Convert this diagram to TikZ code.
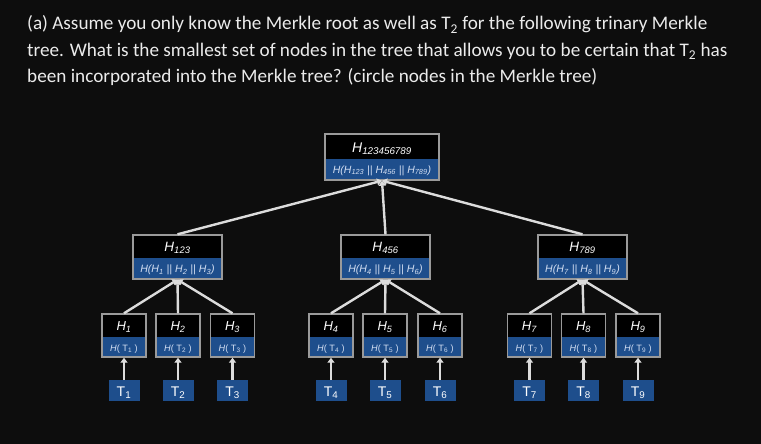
\documentclass[tikz,border=0pt]{standalone}
\usepackage{fontspec}
\setmainfont{Liberation Sans}
\newfontfamily\headfont{Carlito}
\usetikzlibrary{arrows.meta}
\definecolor{bgc}{HTML}{0D0D0D}
\definecolor{headc}{HTML}{EBEBEB}
\definecolor{mblue}{RGB}{30,78,140}
\definecolor{bordc}{HTML}{9A9A9A}
\definecolor{btext}{HTML}{D2DEF2}
\definecolor{arrc}{HTML}{DCDCDC}
\newcommand\mkH[2]{\textit{#1}\textsubscript{\textit{#2}}}
\newcommand\mkT[1]{T\textsubscript{#1}}
\tikzset{
  lowh/.store in=\lowh, lowh=21,
  hbox/.style={draw=bordc, line width=1.4pt, fill=black, inner sep=0pt,
    path picture={\fill[mblue] (path picture bounding box.south west) rectangle ([yshift=\lowh pt]path picture bounding box.south east);}},
  tbox/.style={fill=mblue, inner sep=0pt, minimum width=31pt, minimum height=21pt},
  toptxt/.style={text=white, inner sep=0pt, anchor=base},
  bottxt/.style={text=btext, inner sep=0pt, anchor=base},
  ttxt/.style={text=white, inner sep=0pt, anchor=base, font=\fontsize{14}{16}\selectfont},
  conn/.style={draw=arrc, line width=2.4pt, -{Triangle[length=5pt,width=7pt]}},
  headline/.style={text=headc, inner sep=0pt, anchor=base west, font=\headfont\fontsize{19.2}{22}\selectfont}
}
\begin{document}
\begin{tikzpicture}[x=1pt,y=-1pt]
\fill[bgc] (0,0) rectangle (761,444);
\useasboundingbox (0,0) rectangle (761,444);
% heading
\node[headline] (l1) at (27,30) {(a) Assume you only know the Merkle root as well as T\textsubscript{2} for the following trinary Merkle};
\node[headline] (l2) at (27,56.5) {tree. What is the smallest set of nodes in the tree that allows you to be certain that T\textsubscript{2} has};
\node[headline] (l3) at (27,83) {been incorporated into the Merkle tree? (circle nodes in the Merkle tree)};
% root
\node[hbox, lowh=21, minimum width=114pt, minimum height=46pt] (r) at (382,157) {};
\node[toptxt, font=\fontsize{14}{16}\selectfont] (rt) at (382,152) {\mkH{H}{123456789}};
\node[bottxt, font=\fontsize{10.5}{12}\selectfont] (rb) at (382,173) {\mkH{H(H}{123}\textit{ || }\mkH{H}{456}\textit{ || }\mkH{H}{789}\textit{)}};
% middle
\foreach \n/\x/\a/\b/\c/\s in {a/177.5/1/2/3/123, b/385.5/4/5/6/456, c/582.5/7/8/9/789}{
  \node[hbox, lowh=21, minimum width=89pt, minimum height=44pt] (m\n) at (\x,257) {};
  \node[toptxt, font=\fontsize{13.5}{15}\selectfont] (m\n t) at (\x,251.5) {\mkH{H}{\s}};
  \node[bottxt, font=\fontsize{10.6}{12}\selectfont] (m\n b) at (\x,272.5) {\mkH{H(H}{\a}\textit{ || }\mkH{H}{\b}\textit{ || }\mkH{H}{\c}\textit{)}};
}
% leaves
\foreach \i/\x in {1/124,2/178,3/232.5,4/331,5/385,6/440,7/529.5,8/583.5,9/638}{
  \node[hbox, lowh=20, minimum width=44pt, minimum height=43pt] (h\i) at (\x,335.5) {};
  \node[toptxt, font=\fontsize{13}{15}\selectfont] (h\i t) at (\x,330) {\mkH{H}{\i}};
  \node[bottxt, font=\fontsize{9.2}{11}\selectfont] (h\i b) at (\x,351) {\textit{H}( \mkT{\i} )};
  \node[tbox] (t\i) at (\x,390.5) {};
  \node[ttxt] (t\i t) at (\x,396) {\mkT{\i}};
  \draw[conn] (t\i.north) -- (h\i.south);
}
% connectors
\foreach \i in {1,2,3}{\draw[conn] (h\i.north) -- (ma.south);}
\foreach \i in {4,5,6}{\draw[conn] (h\i.north) -- (mb.south);}
\foreach \i in {7,8,9}{\draw[conn] (h\i.north) -- (mc.south);}
\foreach \n in {a,b,c}{\draw[conn] (m\n.north) -- (r.south);}
\end{tikzpicture}
\end{document}
